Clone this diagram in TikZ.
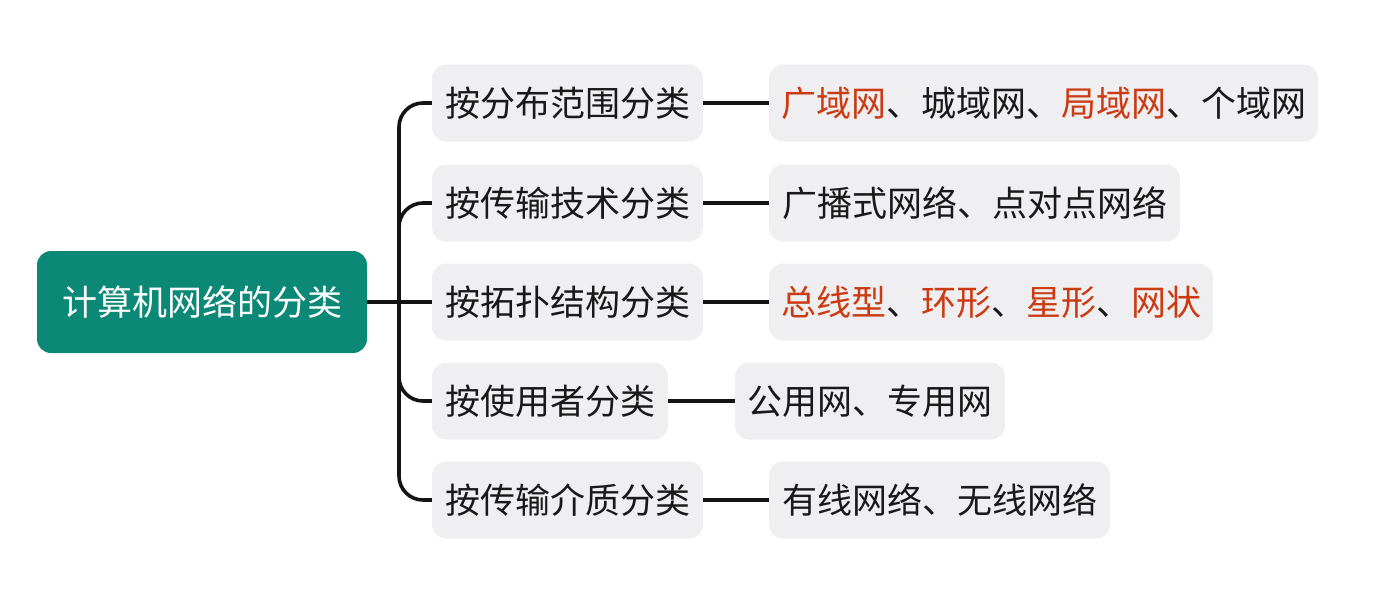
\documentclass[tikz,border=0pt]{standalone}
\usepackage{fontspec}
\newfontfamily\cjk{Noto Sans CJK SC}
\definecolor{teal1}{HTML}{0C8877}
\definecolor{boxgray}{HTML}{EFEEF1}
\definecolor{hred}{HTML}{CC3A12}
\definecolor{lineblk}{HTML}{141414}
\begin{document}
\begin{tikzpicture}[x=1pt,y=-1pt,
  rootbox/.style={fill=teal1,rounded corners=14pt,minimum width=330pt,minimum height=102pt,inner sep=0pt,font=\cjk\fontsize{35}{38}\selectfont,text=white},
  catbox/.style={fill=boxgray,rounded corners=14pt,minimum height=77pt,inner sep=0pt,font=\cjk\fontsize{35}{38}\selectfont,text=black!90},
  conn/.style={draw=lineblk,line width=3.6pt},
  hl/.style={text=hred}]
\useasboundingbox (0,0) rectangle (1378,605);
\node[rootbox] (root) at (202,302) {计算机网络的分类};
\node[catbox,minimum width=271pt] (b1) at (567.5,103) {按分布范围分类};
\node[catbox,minimum width=271pt] (b2) at (567.5,203) {按传输技术分类};
\node[catbox,minimum width=271pt] (b3) at (567.5,302) {按拓扑结构分类};
\node[catbox,minimum width=236pt] (b4) at (550,401) {按使用者分类};
\node[catbox,minimum width=271pt] (b5) at (567.5,500) {按传输介质分类};
\node[catbox,minimum width=549pt] (l1) at (1043.5,103) {\textcolor{hred}{广域网}、城域网、\textcolor{hred}{局域网}、个域网};
\node[catbox,minimum width=411pt] (l2) at (974.5,203) {广播式网络、点对点网络};
\node[catbox,minimum width=444pt] (l3) at (991,302) {\textcolor{hred}{总线型}、\textcolor{hred}{环形}、\textcolor{hred}{星形}、\textcolor{hred}{网状}};
\node[catbox,minimum width=270pt] (l4) at (870,401) {公用网、专用网};
\node[catbox,minimum width=341pt] (l5) at (939.5,500) {有线网络、无线网络};
\coordinate (sp) at (399,302);
\draw[conn] (root.east) -- (b3.west);
\draw[conn,rounded corners=24pt] (sp) -- (sp |- b1.west) -- (b1.west);
\draw[conn,rounded corners=24pt] (sp) -- (sp |- b2.west) -- (b2.west);
\draw[conn,rounded corners=24pt] (sp) -- (sp |- b4.west) -- (b4.west);
\draw[conn,rounded corners=24pt] (sp) -- (sp |- b5.west) -- (b5.west);
\draw[conn] (b1.east) -- (l1.west);
\draw[conn] (b2.east) -- (l2.west);
\draw[conn] (b3.east) -- (l3.west);
\draw[conn] (b4.east) -- (l4.west);
\draw[conn] (b5.east) -- (l5.west);
\end{tikzpicture}
\end{document}
